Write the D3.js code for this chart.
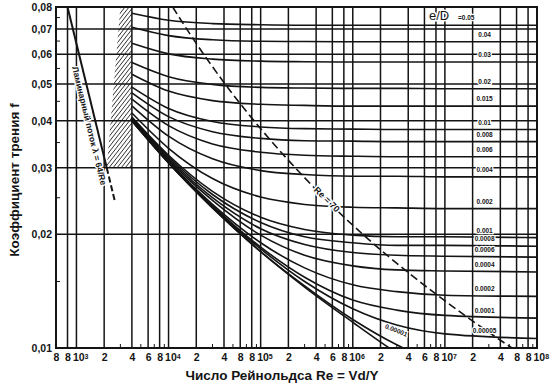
<!DOCTYPE html>
<html>
<head>
<meta charset="utf-8">
<script src="https://cdn.jsdelivr.net/npm/d3@7"></script>
<style>
  body { margin: 0; background: #fff; }
  svg { font-family: "Liberation Sans", Arial, sans-serif; }
</style>
</head>
<body>
<div id="chart"></div>
<script>
// Reynolds numbers where the friction factor of each curve was read
var reGrid = [4e3, 1e4, 3e4, 1e5, 3e5, 1e6, 3e6, 1e7, 1e8];

// relative roughness e/D of each curve ("" = smooth pipe)
var curveNames = ["0.05", "0.04", "0.03", "0.02", "0.015", "0.01", "0.008", "0.006", "0.004",
  "0.002", "0.001", "0.0008", "0.0006", "0.0004", "0.0002", "0.0001", "0.00005", "0.00001", ""];

// friction factor f at reGrid, one row per curve
var curveF = [
  [0.0770, 0.0738, 0.0723, 0.0718, 0.0716, 0.0716, 0.0716, 0.0716, 0.0716],
  [0.0707, 0.0672, 0.0655, 0.0649, 0.0648, 0.0647, 0.0647, 0.0647, 0.0647],
  [0.0641, 0.0601, 0.0582, 0.0575, 0.0573, 0.0572, 0.0572, 0.0572, 0.0572],
  [0.0570, 0.0523, 0.0499, 0.0490, 0.0488, 0.0487, 0.0487, 0.0486, 0.0486],
  [0.0531, 0.0479, 0.0452, 0.0442, 0.0439, 0.0437, 0.0437, 0.0437, 0.0437],
  [0.0491, 0.0431, 0.0398, 0.0385, 0.0381, 0.0380, 0.0379, 0.0379, 0.0379],
  [0.0474, 0.0410, 0.0374, 0.0359, 0.0354, 0.0353, 0.0352, 0.0352, 0.0352],
  [0.0456, 0.0388, 0.0347, 0.0330, 0.0324, 0.0322, 0.0321, 0.0321, 0.0321],
  [0.0438, 0.0364, 0.0317, 0.0295, 0.0288, 0.0285, 0.0285, 0.0284, 0.0284],
  [0.0419, 0.0338, 0.0281, 0.0251, 0.0240, 0.0236, 0.0235, 0.0234, 0.0234],
  [0.0409, 0.0324, 0.0260, 0.0222, 0.0206, 0.0199, 0.0197, 0.0197, 0.0196],
  [0.0407, 0.0321, 0.0255, 0.0215, 0.0197, 0.0190, 0.0187, 0.0187, 0.0186],
  [0.0405, 0.0318, 0.0250, 0.0207, 0.0188, 0.0179, 0.0176, 0.0175, 0.0174],
  [0.0403, 0.0315, 0.0246, 0.0199, 0.0176, 0.0165, 0.0161, 0.0160, 0.0159],
  [0.0401, 0.0312, 0.0240, 0.0190, 0.0163, 0.0147, 0.0141, 0.0138, 0.0137],
  [0.0400, 0.0310, 0.0238, 0.0185, 0.0154, 0.0134, 0.0126, 0.0122, 0.0120],
  [0.0400, 0.0310, 0.0236, 0.0183, 0.0150, 0.0127, 0.0115, 0.0109, 0.0106],
  [0.0400, 0.0309, 0.0235, 0.0180, 0.0146, 0.0119, 0.0102, 0.0090, 0.0081],
  [0.0399, 0.0309, 0.0235, 0.0180, 0.0145, 0.0117, 0.0097, 0.0081, 0.0059]
];

// laminar flow line (solid part, then dashed tail)
var lamRe = [800, 2133];
var lamF = [0.080, 0.030];
var lamTailRe = [2133, 2600];
var lamTailF = [0.030, 0.0246];

// critical zone (hatched)
var critRe = [3000, 4000, 4000, 2133];
var critF = [0.080, 0.080, 0.030, 0.030];

// boundary of fully rough zone, Re = 70
var bRe = [11100, 14800, 44900, 101700, 293600, 1.41e6, 3.93e6, 1.81e7, 3.86e7, 5.35e7];
var bF = [0.080, 0.0716, 0.0486, 0.0379, 0.0284, 0.0196, 0.0159, 0.0120, 0.01055, 0.0100];

// axes
var xTickValues = [600, 800, 1e3, 2e3, 4e3, 6e3, 8e3, 1e4, 2e4, 4e4, 6e4, 8e4, 1e5, 2e5, 4e5, 6e5, 8e5,
  1e6, 2e6, 4e6, 6e6, 8e6, 1e7, 2e7, 4e7, 6e7, 8e7, 1e8];
var xTickText = ["8", "8", "10^3", "2", "4", "6", "8", "10^4", "2", "4", "8", "8", "10^5", "2", "4", "6", "8",
  "10^6", "2", "4", "6", "8", "10^7", "2", "4", "8", "8", "10^8"];
var xMinor = [3e3, 5e3, 7e3, 9e3, 3e4, 5e4, 7e4, 9e4, 3e5, 5e5, 7e5, 9e5, 3e6, 5e6, 7e6, 9e6, 3e7, 5e7, 7e7, 9e7];
var yTickValues = [0.01, 0.02, 0.03, 0.04, 0.05, 0.06, 0.07, 0.08];
var yTickText = ["0,01", "0,02", "0,03", "0,04", "0,05", "0,06", "0,07", "0,08"];
var yMinor = [0.015, 0.025, 0.035, 0.045, 0.055, 0.065, 0.075];

var W = 550, H = 385;
var mLeft = 56, mRight = 537, mTop = 7, mBottom = 348;
var ink = "#141414";

var svg = d3.select("#chart").append("svg")
  .attr("width", W)
  .attr("height", H);

var x = d3.scaleLog().domain([600, 1e8]).range([mLeft, mRight]);
var y = d3.scaleLog().domain([0.01, 0.08]).range([mBottom, mTop]);

var defs = svg.append("defs");
defs.append("clipPath").attr("id", "plot")
  .append("rect").attr("x", mLeft).attr("y", mTop)
  .attr("width", mRight - mLeft).attr("height", mBottom - mTop);
var pat = defs.append("pattern").attr("id", "hatch")
  .attr("patternUnits", "userSpaceOnUse")
  .attr("width", 3.2).attr("height", 3.2)
  .attr("patternTransform", "rotate(38)");
pat.append("line").attr("x1", 0).attr("y1", 0).attr("x2", 0).attr("y2", 3.2)
  .attr("stroke", ink).attr("stroke-width", 1.4);

// grid
var grid = svg.append("g");
grid.selectAll("line.v").data(xTickValues.slice(1)).enter().append("line")
  .attr("x1", d => x(d)).attr("x2", d => x(d))
  .attr("y1", mTop).attr("y2", mBottom)
  .attr("stroke", ink).attr("stroke-width", 1.5);
grid.selectAll("line.h").data(yTickValues.slice(1, -1)).enter().append("line")
  .attr("x1", mLeft).attr("x2", mRight)
  .attr("y1", d => y(d)).attr("y2", d => y(d))
  .attr("stroke", ink).attr("stroke-width", 1.5);
grid.selectAll("line.mx").data(xMinor).enter().append("line")
  .attr("x1", d => x(d)).attr("x2", d => x(d))
  .attr("y1", mBottom).attr("y2", mBottom - 4)
  .attr("stroke", ink).attr("stroke-width", 1);
grid.selectAll("line.my").data(yMinor).enter().append("line")
  .attr("x1", mLeft).attr("x2", mLeft + 4)
  .attr("y1", d => y(d)).attr("y2", d => y(d))
  .attr("stroke", ink).attr("stroke-width", 1);

var plot = svg.append("g").attr("clip-path", "url(#plot)");

// critical zone
plot.append("path")
  .attr("d", d3.line().x(d => x(d[0])).y(d => y(d[1]))(critRe.map((r, i) => [r, critF[i]])) + "Z")
  .attr("fill", "url(#hatch)")
  .attr("stroke", "none");

// laminar
var pl = d3.line().x(d => x(d[0])).y(d => y(d[1]));
plot.append("path").attr("d", pl(lamRe.map((r, i) => [r, lamF[i]])))
  .attr("fill", "none").attr("stroke", ink).attr("stroke-width", 2);
plot.append("path").attr("d", pl(lamTailRe.map((r, i) => [r, lamTailF[i]])))
  .attr("fill", "none").attr("stroke", ink).attr("stroke-width", 2)
  .attr("stroke-dasharray", "6,3");

// turbulent curves
var curveLine = d3.line()
  .x((d, i) => x(reGrid[i]))
  .y(d => y(d))
  .curve(d3.curveMonotoneX);
plot.selectAll("path.c").data(curveF).enter().append("path")
  .attr("d", d => curveLine(d))
  .attr("fill", "none")
  .attr("stroke", ink)
  .attr("stroke-width", 1.6);

// Re = 70 boundary
plot.append("path")
  .attr("d", d3.line().x(d => x(d[0])).y(d => y(d[1])).curve(d3.curveMonotoneX)(bRe.map((r, i) => [r, bF[i]])))
  .attr("fill", "none").attr("stroke", ink).attr("stroke-width", 1.6)
  .attr("stroke-dasharray", "8,4");

// frame
svg.append("rect").attr("x", mLeft).attr("y", mTop)
  .attr("width", mRight - mLeft).attr("height", mBottom - mTop)
  .attr("fill", "none").attr("stroke", ink).attr("stroke-width", 2);

// curve labels
var labelRe = 2.7e7;
svg.selectAll("text.cl").data(curveNames.slice(0, 17)).enter().append("text")
  .attr("x", (d, i) => i === 0 ? 458 : x(labelRe))
  .attr("y", (d, i) => y(curveF[i][curveF[i].length - 1]) - 5)
  .attr("text-anchor", (d, i) => i === 0 ? "start" : "middle")
  .attr("font-size", 6.5).attr("font-weight", "bold").attr("fill", ink)
  .attr("stroke", "#fff").attr("stroke-width", 2.5).attr("paint-order", "stroke")
  .text((d, i) => i === 0 ? "=" + d : d);
svg.append("text").attr("x", 429).attr("y", y(curveF[0][8]) - 5)
  .attr("font-size", 13).attr("fill", ink)
  .attr("stroke", "#fff").attr("stroke-width", 3).attr("paint-order", "stroke")
  .text("e/D");

// rotated label on 0.00001 curve
var p1 = [x(2.9e6), y(0.0110)];
svg.append("text")
  .attr("transform", "translate(" + p1 + ") rotate(22)")
  .attr("text-anchor", "middle")
  .attr("font-size", 6.5).attr("font-weight", "bold").attr("fill", ink)
  .attr("stroke", "#fff").attr("stroke-width", 2.5).attr("paint-order", "stroke")
  .text(curveNames[17]);

// Re = 70 label
var b0 = [x(bRe[4]), y(bF[4])], b1 = [x(bRe[5]), y(bF[5])];
var bAng = Math.atan2(b1[1] - b0[1], b1[0] - b0[0]) * 180 / Math.PI;
var bt = 0.37;
svg.append("text")
  .attr("transform", "translate(" + [b0[0] + bt * (b1[0] - b0[0]), b0[1] + bt * (b1[1] - b0[1])] + ") rotate(" + bAng + ")")
  .attr("text-anchor", "middle").attr("dy", "0.35em")
  .attr("font-size", 9).attr("font-weight", "bold").attr("fill", ink)
  .attr("stroke", "#fff").attr("stroke-width", 3).attr("paint-order", "stroke")
  .text("Re = 70");

// laminar label
var l0 = [x(lamRe[0]), y(lamF[0])], l1 = [x(lamRe[1]), y(lamF[1])];
var lAng = Math.atan2(l1[1] - l0[1], l1[0] - l0[0]) * 180 / Math.PI;
svg.append("text")
  .attr("transform", "translate(" + [x(1139), y(0.0562)] + ") rotate(" + lAng + ")")
  .attr("y", 10)
  .attr("font-size", 8.6).attr("font-weight", "bold").attr("fill", ink)
  .attr("stroke", "#fff").attr("stroke-width", 2.5).attr("paint-order", "stroke")
  .text("Ламинарный поток λ = 64/Re");

// axes
var xAxis = svg.append("g")
  .attr("transform", "translate(0," + mBottom + ")")
  .call(d3.axisBottom(x).tickValues(xTickValues).tickFormat((d, i) => xTickText[i]).tickSize(0).tickPadding(6));
xAxis.select(".domain").remove();
xAxis.selectAll("text")
  .attr("font-family", "Liberation Sans, Arial, sans-serif")
  .attr("font-size", 10.5).attr("font-weight", "bold").attr("fill", ink)
  .each(function (d, i) {
    var t = xTickText[i];
    if (t.indexOf("^") > 0) {
      var parts = t.split("^");
      var sel = d3.select(this).text(null);
      sel.append("tspan").text(parts[0]);
      sel.append("tspan").attr("dy", "-0.4em").attr("font-size", 7).text(parts[1]);
      sel.attr("text-anchor", "start").attr("x", -4);
    }
  });

var yAxis = svg.append("g")
  .attr("transform", "translate(" + mLeft + ",0)")
  .call(d3.axisLeft(y).tickValues(yTickValues).tickFormat((d, i) => yTickText[i]).tickSize(0).tickPadding(4));
yAxis.select(".domain").remove();
yAxis.selectAll("text")
  .attr("font-family", "Liberation Sans, Arial, sans-serif")
  .attr("font-size", 10.5).attr("font-weight", "bold").attr("fill", ink);

// titles
svg.append("text")
  .attr("x", 282).attr("y", 380)
  .attr("text-anchor", "middle")
  .attr("font-size", 13.5).attr("font-weight", "bold").attr("fill", ink)
  .text("Число Рейнольдса Re = Vd/Y");
svg.append("text")
  .attr("transform", "translate(19,180) rotate(-90)")
  .attr("text-anchor", "middle")
  .attr("font-size", 13.5).attr("font-weight", "bold").attr("fill", ink)
  .text("Коэффициент трения f");
</script>
</body>
</html>
